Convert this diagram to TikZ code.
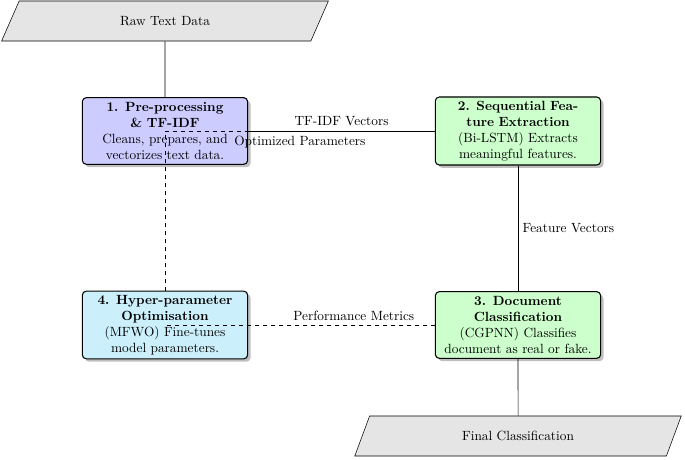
\documentclass[tikz,border=0pt]{standalone}
\usetikzlibrary{shapes.geometric,shadows}
\tikzset{
  stage/.style={draw, thick, rounded corners=3pt, drop shadow, text width=118pt,
    align=center, minimum height=50pt, inner sep=3pt},
  io/.style={draw, fill=gray!20, trapezium, trapezium left angle=72,
    trapezium right angle=108, trapezium stretches=true,
    minimum width=246pt, minimum height=30pt},
}
\begin{document}
\begin{tikzpicture}[x=0.75pt,y=-0.75pt]
    \useasboundingbox (0,0) rectangle (685,460);
    \node[io] (raw) at (165,21) {Raw Text Data};
    \node[stage,fill=blue!20] (p1) at (165,131) {\textbf{1. Pre-processing \& TF-IDF}\\Cleans, prepares, and vectorizes text data.};
    \node[stage,fill=green!20] (p2) at (518,131) {\textbf{2. Sequential Feature Extraction}\\(Bi-LSTM) Extracts meaningful features.};
    \node[stage,fill=green!20] (p3) at (518,325) {\textbf{3. Document Classification}\\(CGPNN) Classifies document as real or fake.};
    \node[stage,fill=cyan!20] (p4) at (165,325) {\textbf{4. Hyper-parameter Optimisation}\\(MFWO) Fine-tunes model parameters.};
    \node[io] (final) at (518,436) {Final Classification};
    \draw (raw) -- (p1);
    \draw (p1) -- node [above,midway] {TF-IDF Vectors} (p2);
    \draw (p2) -- node [right,midway] {Feature Vectors} (p3);
    \draw (p3) -- (final);
    \draw [dashed] (p3.west) -- node [above,pos=0.3] {Performance Metrics} (p4.center);
    \draw [dashed] (p4.north) |- node [below,pos=0.75] {Optimized Parameters} (p2.west);
\end{tikzpicture}
\end{document}
